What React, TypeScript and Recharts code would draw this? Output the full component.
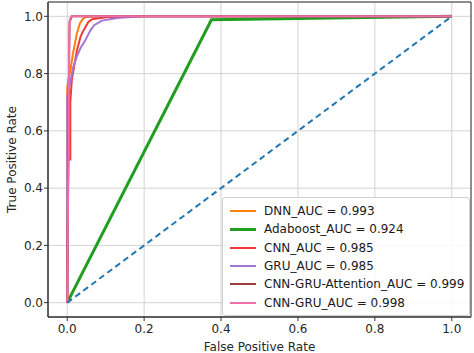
import React from "react"
import { LineChart, Line, XAxis, YAxis, CartesianGrid, Legend, ReferenceArea } from "recharts"

// ROC points (fpr, tpr)
const dnnFpr = [0, 0, 0.003, 0.008, 0.015, 0.025, 0.033, 0.04, 0.048, 0.1, 1]
const dnnTpr = [0, 0.75, 0.78, 0.81, 0.87, 0.94, 0.975, 0.99, 0.998, 1, 1]

const adaFpr = [0, 0.375, 1]
const adaTpr = [0, 0.988, 1]

const cnnFpr = [0, 0.001, 0.003, 0.008, 0.008, 0.012, 0.016, 0.025, 0.035, 0.042, 0.055, 0.065, 0.1, 0.2, 1]
const cnnTpr = [0, 0.2, 0.5, 0.5, 0.7, 0.78, 0.81, 0.88, 0.93, 0.95, 0.98, 0.99, 0.997, 1, 1]

const gruFpr = [0, 0, 0.008, 0.015, 0.025, 0.035, 0.047, 0.06, 0.07, 0.09, 0.135, 0.2, 1]
const gruTpr = [0, 0.72, 0.77, 0.82, 0.86, 0.89, 0.916, 0.95, 0.969, 0.985, 0.995, 1, 1]

const attFpr = [0, 0.003, 0.006, 0.012, 1]
const attTpr = [0, 0.6, 0.98, 1, 1]

const cgFpr = [0, 0.003, 0.005, 0.007, 0.011, 1]
const cgTpr = [0, 0.5, 0.9, 0.99, 1, 1]

const diagFpr = [0, 1]
const diagTpr = [0, 1]

const ticks = [0, 0.2, 0.4, 0.6, 0.8, 1.0]

const pts = (xs: number[], ys: number[]) => xs.map((x, i) => ({ fpr: x, tpr: ys[i] }))

const series = [
  { name: "DNN_AUC = 0.993", color: "#ff7f0e", width: 2, data: pts(dnnFpr, dnnTpr) },
  { name: "Adaboost_AUC = 0.924", color: "#1f9e1f", width: 3, data: pts(adaFpr, adaTpr) },
  { name: "CNN_AUC = 0.985", color: "#ee3a3a", width: 2, data: pts(cnnFpr, cnnTpr) },
  { name: "GRU_AUC = 0.985", color: "#a575d6", width: 2, data: pts(gruFpr, gruTpr) },
  { name: "CNN-GRU-Attention_AUC = 0.999", color: "#9b3d3a", width: 2, data: pts(attFpr, attTpr) },
  { name: "CNN-GRU_AUC = 0.998", color: "#f06eaa", width: 2, data: pts(cgFpr, cgTpr) },
]

const font = "'DejaVu Sans', sans-serif"
const tickStyle = { fontSize: 12, fill: "#262626", fontFamily: font }

const renderLegend = () => (
  <div
    style={{
      border: "1px solid #d0d0d0",
      borderRadius: 3,
      background: "rgba(255,255,255,0.85)",
      padding: "4px 5px 3px 7px",
      fontFamily: font,
      fontSize: 12,
      color: "#1a1a1a",
      whiteSpace: "nowrap",
      width: "max-content",
    }}
  >
    {series.map((s) => (
      <div key={s.name} style={{ display: "flex", alignItems: "center", height: 18.3 }}>
        <div style={{ width: 26, height: s.width, background: s.color, marginRight: 8, flexShrink: 0 }} />
        <span>{s.name}</span>
      </div>
    ))}
  </div>
)

export default function App() {
  return (
    <div style={{ position: "absolute", left: 0, top: 0, background: "#fff" }}>
      <LineChart width={474} height={353} margin={{ top: 2, right: 3, left: 0, bottom: 0 }}>
        <CartesianGrid stroke="#d3d3d3" strokeWidth={1} />
        <XAxis
          type="number"
          dataKey="fpr"
          domain={[-0.05, 1.05]}
          ticks={ticks}
          allowDataOverflow
          tickFormatter={(v: number) => v.toFixed(1)}
          tick={tickStyle}
          tickSize={4}
          tickMargin={3}
          height={36}
          stroke="#333"
          label={{ value: "False Positive Rate", position: "insideBottom", offset: 2, style: { ...tickStyle } }}
        />
        <YAxis
          type="number"
          dataKey="tpr"
          domain={[-0.05, 1.05]}
          ticks={ticks}
          allowDataOverflow
          tickFormatter={(v: number) => v.toFixed(1)}
          tick={tickStyle}
          tickSize={4}
          tickMargin={1}
          width={48}
          stroke="#333"
          label={{
            value: "True Positive Rate",
            angle: -90,
            position: "insideLeft",
            offset: 12,
            style: { ...tickStyle, textAnchor: "middle" },
          }}
        />
        <ReferenceArea x1={-0.05} x2={1.05} y1={-0.05} y2={1.05} fill="none" stroke="#333" strokeWidth={1} ifOverflow="extendDomain" />
        {series.map((s) => (
          <Line
            key={s.name}
            data={s.data}
            dataKey="tpr"
            name={s.name}
            type="linear"
            stroke={s.color}
            strokeWidth={s.width}
            dot={false}
            isAnimationActive={false}
          />
        ))}
        <Line
          data={pts(diagFpr, diagTpr)}
          dataKey="tpr"
          name="diag"
          type="linear"
          stroke="#1f77b4"
          strokeWidth={2}
          strokeDasharray="6 4"
          dot={false}
          legendType="none"
          isAnimationActive={false}
        />
        <Legend
          content={renderLegend}
          layout="vertical"
          align="center"
          verticalAlign="middle"
          wrapperStyle={{ left: 222, top: 197, width: "auto" }}
        />
      </LineChart>
    </div>
  )
}
